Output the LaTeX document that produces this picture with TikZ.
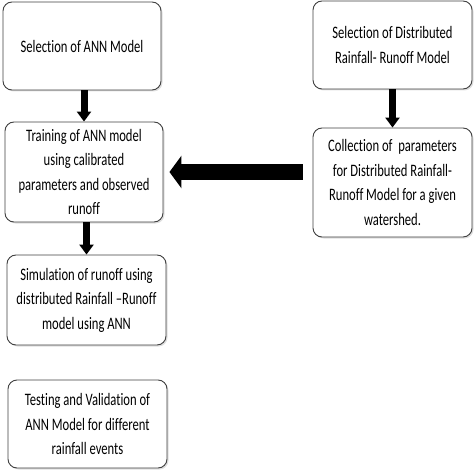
\documentclass[tikz,border=0pt]{standalone}
\usepackage{fontspec}
\setmainfont{Carlito}[FakeStretch=0.72, RawFeature=-liga]
\usetikzlibrary{arrows.meta,shadows}
\tikzset{
  box/.style={draw=black!75, line width=0.9bp, rounded corners=9bp, fill=white,
    drop shadow={shadow xshift=1.5bp, shadow yshift=-1.5bp, opacity=0.25},
    align=center, inner sep=0pt, text=black,
    font=\fontsize{17.5bp}{24.5bp}\selectfont},
  smallarrow/.style={line width=7bp, -{Triangle[width=14bp,length=10bp]}},
  bigarrow/.style={line width=16bp, -{Triangle[width=32bp,length=12bp]}},
}
\begin{document}
\begin{tikzpicture}[x=1bp,y=-1bp]
\useasboundingbox (0,0) rectangle (474,471);
\node[box, minimum width=158bp, minimum height=88bp] (b1) at (82,46) {Selection of ANN Model};
\node[box, minimum width=159bp, minimum height=88bp] (r1) at (392.5,45) {Selection of Distributed\\Rainfall- Runoff Model};
\node[box, minimum width=158bp, minimum height=100bp] (b2) at (84,172) {Training of ANN model\\using calibrated\\parameters and observed\\runoff};
\node[box, minimum width=159bp, minimum height=109bp] (r2) at (392.5,182.5) {Collection of \ parameters\\for Distributed Rainfall-\\Runoff Model for a given\\watershed.};
\node[box, minimum width=159bp, minimum height=90bp] (b3) at (86.5,300) {Simulation of runoff using\\distributed Rainfall --Runoff\\model using ANN};
\node[box, minimum width=159bp, minimum height=88bp] (b4) at (87.5,424) {Testing and Validation of\\ANN Model for different\\rainfall events};
\draw[smallarrow] (b1.south -| b2.north) -- (b2.north);
\draw[smallarrow] (r1.south) -- (r2.north);
\draw[smallarrow] (b2.south -| b3.north) -- (b3.north);
\draw[bigarrow, shorten <=10bp, shorten >=6bp] (r2.west |- b2.east) -- (b2.east);
\end{tikzpicture}
\end{document}
